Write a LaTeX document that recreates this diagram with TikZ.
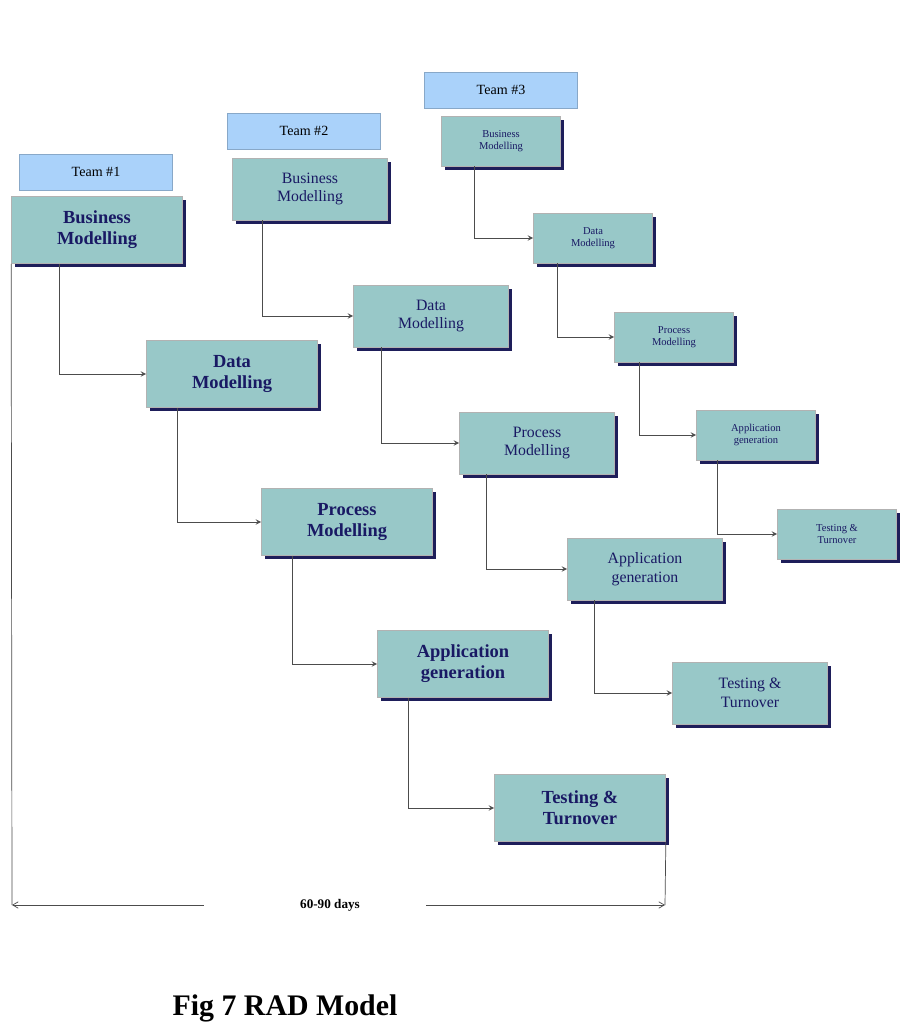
\documentclass[tikz,border=0pt]{standalone}
\usepackage{fontspec}
\setmainfont{Liberation Serif}
\usetikzlibrary{shapes,arrows,positioning,shadows}
\definecolor{boxfill}{RGB}{152,200,200}
\definecolor{teamfill}{RGB}{170,210,250}
\definecolor{boxtext}{RGB}{25,25,100}
\definecolor{shadowblue}{RGB}{30,30,90}
\tikzstyle{arrow} = [->,>=stealth,draw=black!70]
\begin{document}
\begin{tikzpicture}[
  x=0.02cm, y=-0.02cm,
  stage/.style={draw=gray!60, fill=boxfill, text=boxtext, align=center,
    drop shadow={shadow xshift=2pt, shadow yshift=-2pt, fill=shadowblue, opacity=1}},
  big/.style={stage, minimum width=3.42cm, minimum height=1.34cm, font=\bfseries\fontsize{10.5}{12}\selectfont},
  mid/.style={stage, minimum width=3.1cm, minimum height=1.24cm, font=\fontsize{9}{10.5}\selectfont},
  small/.style={stage, minimum width=2.38cm, minimum height=1.0cm, font=\fontsize{6}{7}\selectfont},
  team/.style={fill=teamfill, draw=teamfill!80!black, minimum height=0.72cm, minimum width=3.05cm, font=\fontsize{8}{9}\selectfont}
]
\useasboundingbox[fill=white] (0,0) rectangle (920,1023);
% team 1
\node[team] (t1) at (96,172) {Team \#1};
\node[big] (b1) at (97,230) {Business\\Modelling};
\node[big] (d1) at (232,374) {Data\\Modelling};
\node[big] (p1) at (347,522) {Process\\Modelling};
\node[big] (a1) at (463,664) {Application\\generation};
\node[big] (e1) at (580,808) {Testing \&\\Turnover};
% team 2
\node[team] (t2) at (304,131) {Team \#2};
\node[mid] (b2) at (310,189) {Business\\Modelling};
\node[mid] (d2) at (431,316) {Data\\Modelling};
\node[mid] (p2) at (537,443) {Process\\Modelling};
\node[mid] (a2) at (645,569) {Application\\generation};
\node[mid] (e2) at (750,693) {Testing \&\\Turnover};
% team 3
\node[team] (t3) at (501,90) {Team \#3};
\node[small] (b3) at (501,141) {Business\\Modelling};
\node[small] (d3) at (593,238) {Data\\Modelling};
\node[small] (p3) at (674,337) {Process\\Modelling};
\node[small] (a3) at (756,435) {Application\\generation};
\node[small] (e3) at (837,534) {Testing \&\\Turnover};
% connectors
\draw[arrow] ([xshift=0.96cm]b1.south west) |- (d1.west);
\draw[arrow] ([xshift=0.62cm]d1.south west) |- (p1.west);
\draw[arrow] ([xshift=0.62cm]p1.south west) |- (a1.west);
\draw[arrow] ([xshift=0.62cm]a1.south west) |- (e1.west);
\draw[arrow] ([xshift=0.6cm]b2.south west) |- (d2.west);
\draw[arrow] ([xshift=0.56cm]d2.south west) |- (p2.west);
\draw[arrow] ([xshift=0.54cm]p2.south west) |- (a2.west);
\draw[arrow] ([xshift=0.54cm]a2.south west) |- (e2.west);
\draw[arrow] ([xshift=0.66cm]b3.south west) |- (d3.west);
\draw[arrow] ([xshift=0.48cm]d3.south west) |- (p3.west);
\draw[arrow] ([xshift=0.5cm]p3.south west) |- (a3.west);
\draw[arrow] ([xshift=0.42cm]a3.south west) |- (e3.west);
% time span
\coordinate (l0) at (12,905);
\coordinate (r0) at (665,905);
\draw[black!70] (b1.south west) -- (l0);
\draw[black!70] (e1.south east) -- (r0);
\node[font=\bfseries\fontsize{7.5}{9}\selectfont] (span) at (330,905) {60-90 days};
\draw[black!70, -angle 60] ([xshift=-1.8cm]span.west) -- (l0);
\draw[black!70, -angle 60] ([xshift=1.2cm]span.east) -- (r0);
\node[font=\bfseries\fontsize{17}{20}\selectfont] (cap) at (285,1008) {Fig 7 RAD Model};
\end{tikzpicture}
\end{document}
